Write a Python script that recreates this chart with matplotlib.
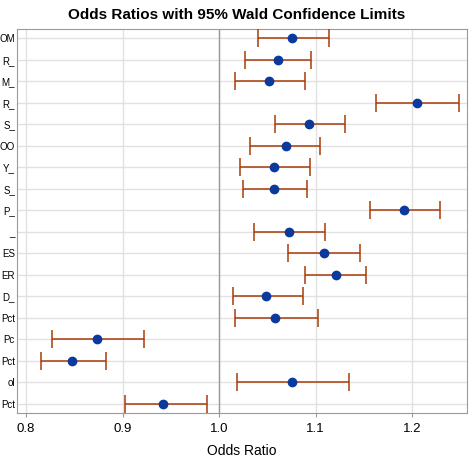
import matplotlib
matplotlib.use("Agg")
import matplotlib.pyplot as plt
import numpy as np

# Effect labels (cut off at the left edge in the original)
labels = ["OM", "R_", "M_", "R_", "S_", "OO", "Y_", "S_", "P_", "_",
          "ES", "ER", "D_", "Pct", "Pc", "Pct", "ol", "Pct"]
odds = [1.076, 1.061, 1.052, 1.205, 1.093, 1.069, 1.057, 1.057, 1.192,
        1.072, 1.109, 1.121, 1.049, 1.058, 0.874, 0.848, 1.076, 0.942]
lower = [1.040, 1.027, 1.016, 1.163, 1.058, 1.032, 1.022, 1.025, 1.156,
         1.036, 1.071, 1.089, 1.014, 1.017, 0.827, 0.816, 1.019, 0.903]
upper = [1.114, 1.095, 1.089, 1.249, 1.130, 1.105, 1.094, 1.091, 1.229,
         1.110, 1.146, 1.152, 1.087, 1.102, 0.922, 0.883, 1.135, 0.987]
xticks = [0.8, 0.9, 1.0, 1.1, 1.2]

plt.rcParams['font.family'] = ['Liberation Sans', 'DejaVu Sans']

fig = plt.figure(figsize=(4.73, 4.63), dpi=100)
ax = fig.add_axes([0.036, 0.108, 0.951, 0.829])

y = np.arange(len(labels))
odds = np.array(odds)
err = [odds - np.array(lower), np.array(upper) - odds]

# grid and reference line
for yy in y:
    ax.axhline(yy, color='#e1e1e1', lw=1, zorder=0)
for xt in xticks:
    ax.axvline(xt, color='#e1e1e1', lw=1, zorder=0)
ax.axvline(1.0, color='#9a9a9a', lw=1, zorder=1)

ax.errorbar(odds, y, xerr=err, fmt='o', color='#0b3a9c', ms=6,
            ecolor='#a83a0a', elinewidth=1.1, capsize=6.5, capthick=1.1, zorder=3)

ax.set_xlim(0.7907, 1.2567)
ax.set_ylim(len(labels) - 1 + 0.42, -0.42)
ax.set_xticks(xticks)
ax.set_xticklabels(["0.8", "0.9", "1.0", "1.1", "1.2"], fontsize=9.5)
ax.set_yticks(y)
ax.set_yticklabels(labels, fontsize=7)
ax.tick_params(axis='y', length=0, pad=1.5)
ax.tick_params(axis='x', length=3, color='#9a9a9a', pad=4)
for s in ax.spines.values():
    s.set_color('#9a9a9a')

ax.set_xlabel("Odds Ratio", fontsize=10, labelpad=7)
fig.text(0.5, 0.968, "Odds Ratios with 95% Wald Confidence Limits",
         ha='center', va='center', fontsize=11, fontweight='bold')

fig.savefig("out.png", dpi=100)
